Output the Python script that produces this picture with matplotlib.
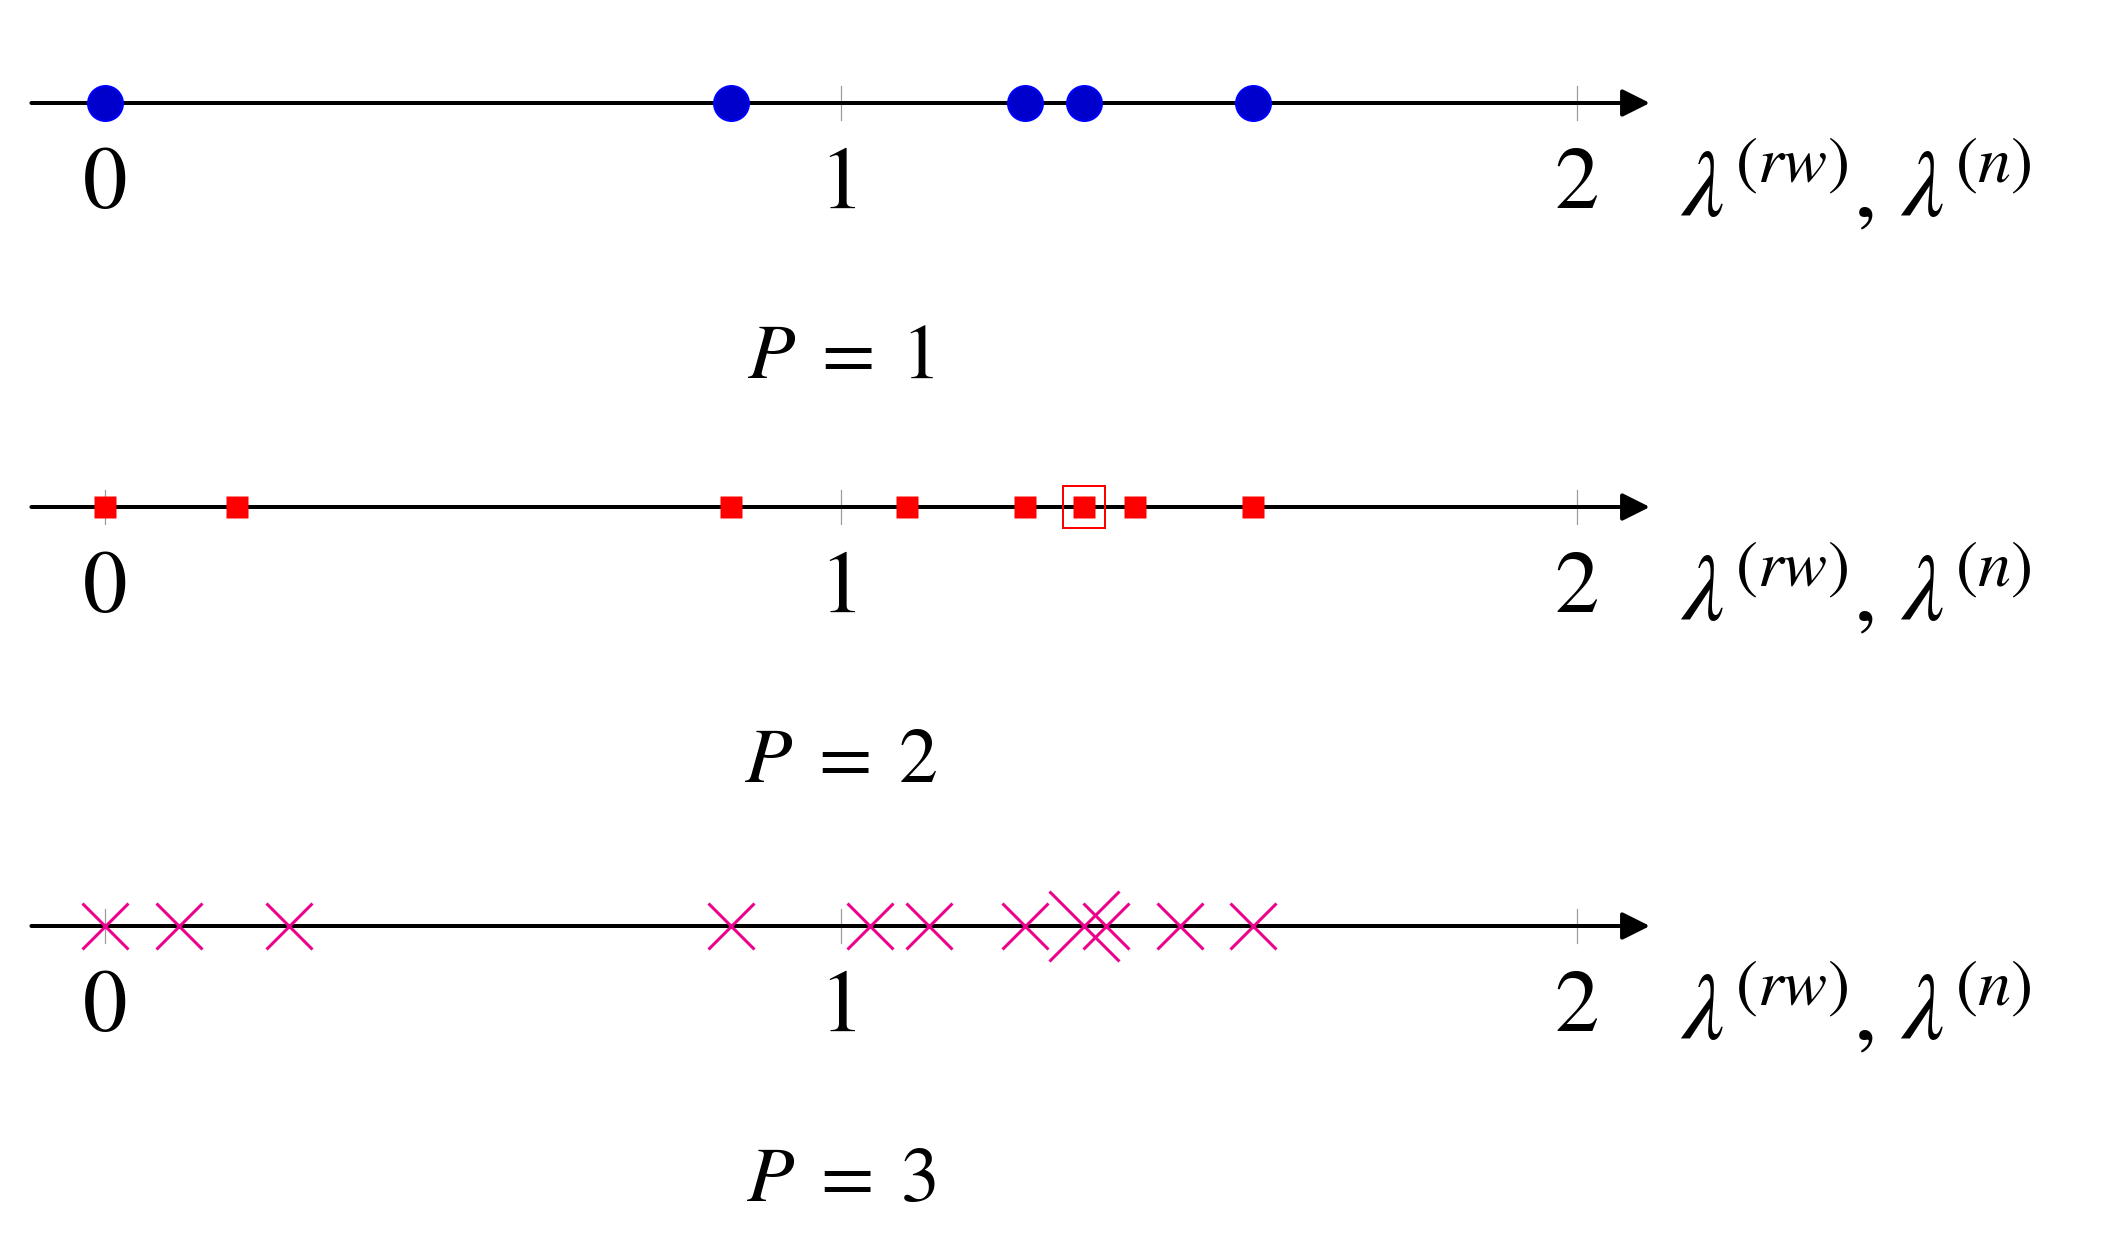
import matplotlib
matplotlib.use("Agg")
import matplotlib.pyplot as plt

plt.rcParams['font.family'] = ['STIXGeneral', 'DejaVu Serif']
plt.rcParams['mathtext.fontset'] = 'stix'

# eigenvalues, one list per P
p1_vals = [0.0, 0.85, 1.25, 1.33, 1.56]
p2_vals = [0.0, 0.18, 0.85, 1.09, 1.25, 1.33, 1.40, 1.56]
p2_boxed = [1.33]
p3_vals = [0.0, 0.10, 0.25, 0.85, 1.04, 1.12, 1.25, 1.36, 1.46, 1.56]
p3_big = [1.33]
tick_vals = [0, 1, 2]
tick_labels = ['0', '1', '2']
p_labels = [r'$P \;=\; 1$', r'$P \;=\; 2$', r'$P \;=\; 3$']
axis_label = r'$\lambda^{(rw)},\, \lambda^{(n)}$'

W, H = 2104, 1236
fig = plt.figure(figsize=(W / 100, H / 100), dpi=100)
ax = fig.add_axes([0, 0, 1, 1])
# x: data units (0 at 105px, 1 unit = 736px); y: pixels from the top
x0_px, unit_px = 105, 736
ax.set_xlim(-x0_px / unit_px, (W - x0_px) / unit_px)
ax.set_ylim(H, 0)
ax.axis('off')

row_y = [103, 507, 926]
px = 0.72  # points per pixel at dpi 100

blue_face, blue_edge = '#0000CC', '#0000FF'
red = '#FF0000'
magenta = '#EC008C'

for y, plabel in zip(row_y, p_labels):
    # axis line with arrow
    ax.annotate('', xy=(2.099, y), xytext=(-0.1, y),
                arrowprops=dict(arrowstyle='-|>', lw=4 * px, color='black',
                                mutation_scale=42, shrinkA=0, shrinkB=0),
                zorder=2)
    for t, tl in zip(tick_vals, tick_labels):
        ax.plot([t, t], [y - 17, y + 17], color='#9a9a9a', lw=1.2 * px, zorder=1)
        ax.text(t, y + 105, tl, ha='center', va='baseline', fontsize=64)
    ax.text(1.0, y + 275, plabel, ha='center', va='baseline', fontsize=56)
    ax.text((1680 - x0_px) / unit_px, y + 113, axis_label, ha='left',
            va='baseline', fontsize=68)

# P = 1
ax.plot(p1_vals, [row_y[0]] * len(p1_vals), 'o', ms=35 * px, mfc=blue_face,
        mec=blue_edge, mew=2 * px, zorder=3)

# P = 2
ax.plot(p2_vals, [row_y[1]] * len(p2_vals), 's', ms=23 * px, mfc=red,
        mec='none', zorder=3)
ax.plot(p2_boxed, [row_y[1]] * len(p2_boxed), 's', ms=42 * px, mfc='none',
        mec=red, mew=2 * px, zorder=3)

# P = 3
ax.plot(p3_vals, [row_y[2]] * len(p3_vals), 'x', ms=47 * px, mec=magenta,
        mew=3 * px, zorder=3)
ax.plot(p3_big, [row_y[2]] * len(p3_big), 'x', ms=70 * px, mec=magenta,
        mew=3 * px, zorder=3)

fig.savefig('out.png', dpi=100, facecolor='white')
